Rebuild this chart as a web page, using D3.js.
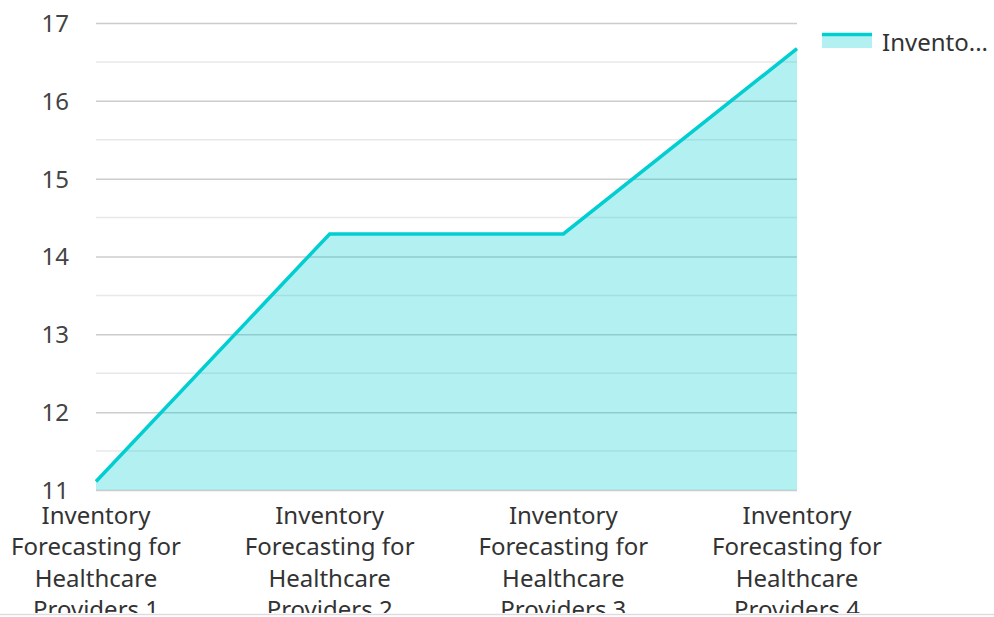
<!DOCTYPE html>
<html>
<head>
<meta charset="utf-8">
<script src="https://cdn.jsdelivr.net/npm/d3@7"></script>
<style>
  html, body { margin: 0; padding: 0; background: #fff; }
  svg { display: block; font-family: "Noto Sans", "Open Sans", sans-serif; }
</style>
</head>
<body>
<div id="chart"></div>
<script>
// data
var categories = [
  "Inventory Forecasting for Healthcare Providers 1",
  "Inventory Forecasting for Healthcare Providers 2",
  "Inventory Forecasting for Healthcare Providers 3",
  "Inventory Forecasting for Healthcare Providers 4"
];
var seriesName = "Inventory Forecasting for Healthcare Providers";
var values = [11.11, 14.29, 14.29, 16.67];
var yTicks = [11, 12, 13, 14, 15, 16, 17];
var labelLines = [
  ["Inventory", "Forecasting for", "Healthcare", "Providers 1"],
  ["Inventory", "Forecasting for", "Healthcare", "Providers 2"],
  ["Inventory", "Forecasting for", "Healthcare", "Providers 3"],
  ["Inventory", "Forecasting for", "Healthcare", "Providers 4"]
];

var W = 994, H = 617;
var plotLeft = 96, plotRight = 797, plotTop = 23, plotBottom = 490;
var color = "#00ced1";

var svg = d3.select("#chart").append("svg")
  .attr("width", W)
  .attr("height", H);

svg.append("clipPath").attr("id", "clip")
  .append("rect").attr("x", 0).attr("y", 0).attr("width", W).attr("height", 613);

var x = d3.scalePoint().domain(categories).range([plotLeft, plotRight]).padding(0);
var y = d3.scaleLinear().domain([11, 17]).range([plotBottom, plotTop]);

// minor gridlines (halves)
var minor = d3.range(11.5, 17, 1);
svg.append("g").selectAll("line").data(minor).enter().append("line")
  .attr("x1", plotLeft).attr("x2", plotRight)
  .attr("y1", function(d) { return y(d) }).attr("y2", function(d) { return y(d) })
  .attr("stroke", "#e8e8e8").attr("stroke-width", 1.5);

// y axis with major gridlines
var yAxis = svg.append("g")
  .attr("transform", "translate(" + plotLeft + ",0)")
  .call(d3.axisLeft(y).tickValues(yTicks).tickSize(-(plotRight - plotLeft)).tickPadding(27).tickFormat(d3.format("d")))
  .attr("font-family", null).attr("font-size", null);
yAxis.select(".domain").remove();
yAxis.selectAll("line").attr("stroke", "#cccccc").attr("stroke-width", 1.5);
yAxis.selectAll("text")
  .attr("fill", "#444").style("font-size", "24px")
  .attr("dy", "0.35em");

// area + line
var pts = categories.map(function(c, i) { return [c, values[i]] });
var area = d3.area()
  .x(function(d) { return x(d[0]) })
  .y0(y(11))
  .y1(function(d) { return y(d[1]) });
var line = d3.line()
  .x(function(d) { return x(d[0]) })
  .y(function(d) { return y(d[1]) });

svg.append("path")
  .attr("d", area(pts))
  .attr("fill", color).attr("fill-opacity", 0.3);
svg.append("path")
  .attr("d", line(pts))
  .attr("fill", "none")
  .attr("stroke", color)
  .attr("stroke-width", 3.5);

// x labels, wrapped, clipped at the bottom
var xl = svg.append("g").attr("clip-path", "url(#clip)");
categories.forEach(function(c, i) {
  var t = xl.append("text")
    .attr("x", x(c))
    .attr("y", 524)
    .attr("text-anchor", "middle")
    .attr("fill", "#333")
    .style("font-size", "24px");
  labelLines[i].forEach(function(s, k) {
    t.append("tspan").attr("x", x(c)).attr("dy", k == 0 ? 0 : 31.3).text(s);
  });
});

// bottom separator
svg.append("line")
  .attr("x1", 0).attr("x2", W)
  .attr("y1", 614.5).attr("y2", 614.5)
  .attr("stroke", "#dddddd").attr("stroke-width", 1.5);

// legend
var lg = svg.append("g").attr("transform", "translate(822,34)");
lg.append("rect").attr("x", 0).attr("y", 0).attr("width", 50).attr("height", 14)
  .attr("fill", color).attr("fill-opacity", 0.3);
lg.append("line").attr("x1", 0).attr("x2", 50).attr("y1", 0.5).attr("y2", 0.5)
  .attr("stroke", color).attr("stroke-width", 3.5);
lg.append("text").attr("x", 60).attr("y", 9).attr("dy", "0.35em")
  .attr("fill", "#333").style("font-size", "24px")
  .text(seriesName.slice(0, 7) + "...");
</script>
</body>
</html>
